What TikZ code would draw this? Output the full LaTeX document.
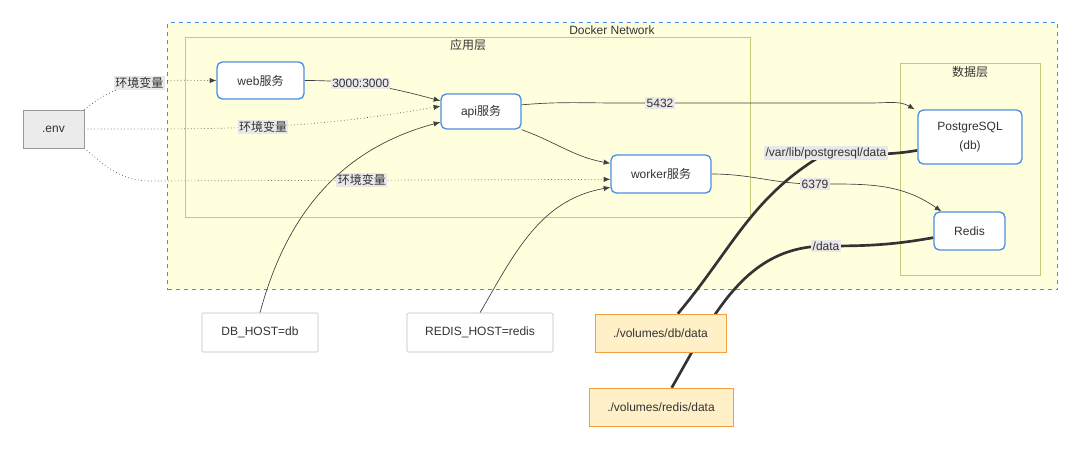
\documentclass[tikz,border=0pt]{standalone}
\usepackage{fontspec}
\setmainfont{Liberation Sans}
\newfontfamily\cjk{Noto Sans CJK SC}
\usetikzlibrary{arrows.meta}
\pgfdeclarelayer{bg}\pgfdeclarelayer{bgg}
\pgfsetlayers{bgg,bg,main}
\definecolor{ybg}{HTML}{FFFFDE}
\definecolor{yb}{HTML}{C9C87A}
\definecolor{bl}{HTML}{4A90E2}
\definecolor{og}{HTML}{FFF0C8}
\definecolor{ob}{HTML}{F0A040}
\begin{document}
\begin{tikzpicture}[x=0.75pt,y=-0.75pt,font=\fontsize{9}{11}\selectfont,text=black!80,
 svc/.style={draw=bl,line width=1pt,rounded corners=4pt,fill=white,minimum width=#1},
 host/.style={draw=black!25,fill=white,rounded corners=1pt,minimum width=116*0.75pt,minimum height=39*0.75pt},
 vol/.style={draw=ob,fill=og,minimum height=38*0.75pt},
 lab/.style={fill=black!9,inner sep=1pt},
 ar/.style={draw=black!75,line width=0.5pt,-{Latex[length=5pt,width=4pt]}},
 dt/.style={ar,dotted},
 thick2/.style={draw=black!80,line width=2pt}]
\useasboundingbox (0,0) rectangle (1080,453);
\begin{pgfonlayer}{bgg}
\node[draw=bl,dashed,line width=0.8pt,fill=ybg,minimum width=890*0.75pt,minimum height=267*0.75pt,anchor=north west] (net) at (167,22) {};
\node[draw=yb,fill=ybg,line width=0.8pt,minimum width=565*0.75pt,minimum height=180*0.75pt,anchor=north west] (app) at (185,37) {};
\node[draw=yb,fill=ybg,line width=0.8pt,minimum width=140*0.75pt,minimum height=212*0.75pt,anchor=north west] (data) at (900,63) {};
\end{pgfonlayer}
\node (netl) at (612,30) {Docker Network};
\node (appl) at (468,45) {\cjk 应用层};
\node (datal) at (970,72) {\cjk 数据层};
\node[draw=black!40,fill=black!8,minimum width=61*0.75pt,minimum height=38*0.75pt] (env) at (53.5,129) {.env};
\node[svc=87*0.75pt,minimum height=37*0.75pt] (web) at (260.5,80.5) {web{\cjk 服务}};
\node[svc=80*0.75pt,minimum height=35*0.75pt] (api) at (481,111.5) {api{\cjk 服务}};
\node[svc=100*0.75pt,minimum height=38*0.75pt] (worker) at (661,174) {worker{\cjk 服务}};
\node[svc=104*0.75pt,minimum height=54*0.75pt,align=center] (pg) at (970,137) {PostgreSQL\\[3pt](db)};
\node[svc=71*0.75pt,minimum height=38*0.75pt] (redis) at (969.5,231) {Redis};
\node[host] (dbh) at (260,332.5) {DB\_HOST=db};
\node[host,minimum width=146*0.75pt] (rh) at (480,332.5) {REDIS\_HOST=redis};
\node[vol,minimum width=131*0.75pt] (vdb) at (660.5,333) {./volumes/db/data};
\node[vol,minimum width=144*0.75pt] (vr) at (661,407) {./volumes/redis/data};
\coordinate (k1) at (870,103);
\begin{pgfonlayer}{bg}
\draw[dt] (env.north east) to[out=40,in=180] node[pos=0.45,lab,font=\cjk\fontsize{9}{11}\selectfont]{环境变量} (web.west);
\draw[dt] (env.east) to[out=0,in=190] node[pos=0.5,lab,font=\cjk\fontsize{9}{11}\selectfont]{环境变量} ([yshift=4pt]api.west);
\draw[dt] (env.south east) to[out=-40,in=180] (150,181) -- node[pos=0.46,lab,font=\cjk\fontsize{9}{11}\selectfont]{环境变量} ([yshift=-4pt]worker.west);
\draw[ar] (web.east) to[out=0,in=165] node[pos=0.4,lab]{3000:3000} ([yshift=8pt]api.west);
\draw[ar] ([yshift=5pt]api.east) to[out=5,in=180] (620,103) -- node[pos=0.16,lab]{5432} (k1) to[out=0,in=150] ([xshift=-2pt]pg.north west);
\draw[ar] (api.south east) to[out=-20,in=170] ([yshift=8pt]worker.west);
\draw[ar] (worker.east) to[out=0,in=180] (815,184) node[lab]{6379} to[out=0,in=145] ([xshift=6pt]redis.north west);
\draw[ar] (dbh.north) to[out=75,in=195] ([yshift=-8pt]api.west);
\draw[ar] (rh.north) to[out=60,in=190] ([yshift=-10pt]worker.west);
\draw[thick2] ([xshift=13pt]vdb.north) to[out=50,in=210] (826,153) node[lab,text=black!80]{/var/lib/postgresql/data} to[out=0,in=190] ([yshift=-10pt]pg.west);
\draw[thick2] ([xshift=8pt]vr.north) to[out=60,in=180] (826,246) node[lab,text=black!80]{/data} to[out=0,in=190] ([yshift=-5pt]redis.west);
\end{pgfonlayer}
\end{tikzpicture}
\end{document}
